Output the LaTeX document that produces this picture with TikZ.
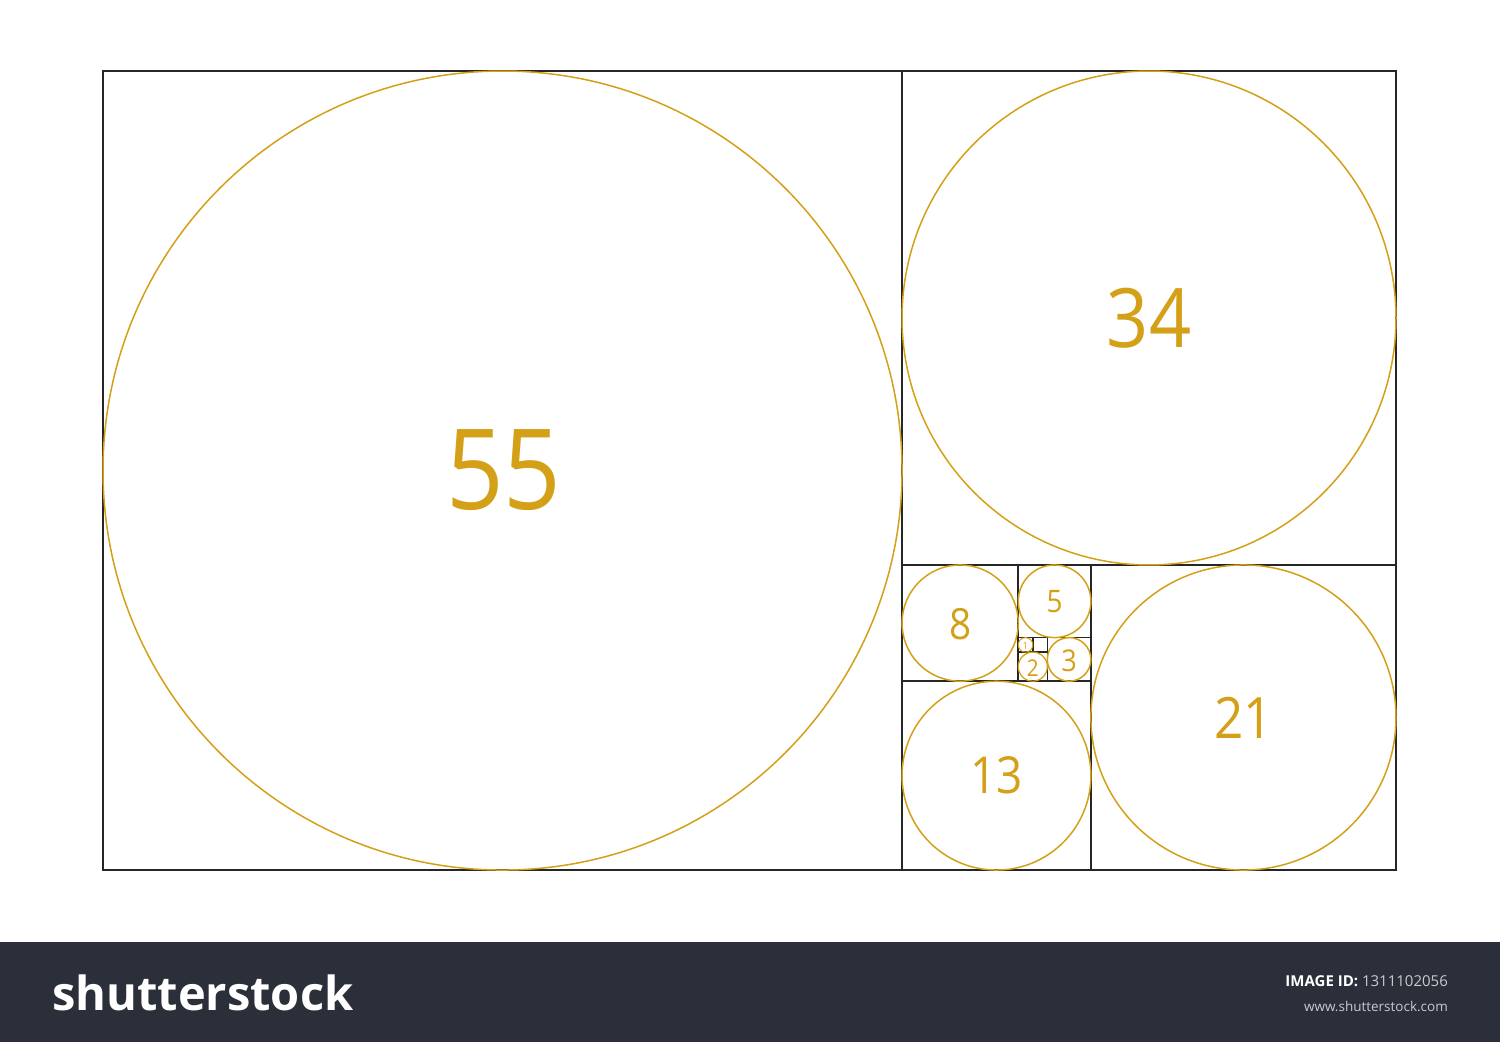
\documentclass[tikz,border=0pt]{standalone}
\usepackage{fontspec}
\setmainfont{Open Sans}
\definecolor{gold}{RGB}{212,160,23}
\definecolor{barbg}{RGB}{42,47,58}
\definecolor{idgrey}{RGB}{200,203,208}
\begin{document}
\begin{tikzpicture}[x=1pt,y=-1pt,
  sq/.style={draw=black!85,line width=1.6pt},
  circ/.style={draw=gold,line width=1.5pt},
  num/.style={text=gold,inner sep=0pt,anchor=center,xscale=0.9}]
\useasboundingbox (0,0) rectangle (1500,1042);
\fill[white] (0,0) rectangle (1500,1042);
\begin{scope}[shift={(103,71)},x=14.528pt,y=-14.528pt]
  % squares
  \draw[sq] (0,0) rectangle (89,55);
  \draw[sq] (55,0) -- (55,55);
  \draw[sq] (55,34) -- (89,34);
  \draw[sq] (68,34) -- (68,55);
  \draw[sq] (55,42) -- (68,42);
  \draw[sq] (63,34) -- (63,42);
  \draw[sq] (63,39) -- (68,39);
  \draw[sq] (65,39) -- (65,42);
  \draw[sq] (63,40) -- (65,40);
  \draw[sq] (64,39) -- (64,40);
  % circles
  \draw[circ] (27.5,27.5) circle[radius=27.5];
  \draw[circ] (72,17) circle[radius=17];
  \draw[circ] (78.5,44.5) circle[radius=10.5];
  \draw[circ] (61.5,48.5) circle[radius=6.5];
  \draw[circ] (59,38) circle[radius=4];
  \draw[circ] (65.5,36.5) circle[radius=2.5];
  \draw[circ] (66.5,40.5) circle[radius=1.5];
  \draw[circ,line width=1.2pt] (64,41) circle[radius=1];
  \draw[circ,line width=1pt] (63.5,39.5) circle[radius=0.5];
  % labels
  \node[num,font=\fontsize{112}{112}\selectfont] (n55) at (27.6,27.5) {55};
  \node[num,font=\fontsize{82}{82}\selectfont] (n34) at (72,17) {34};
  \node[num,font=\fontsize{57}{57}\selectfont] (n21) at (78.5,44.5) {21};
  \node[num,font=\fontsize{51}{51}\selectfont] (n13) at (61.5,48.5) {13};
  \node[num,font=\fontsize{43}{43}\selectfont] (n8) at (59,38.05) {8};
  \node[num,font=\fontsize{31}{31}\selectfont] (n5) at (65.5,36.5) {5};
  \node[num,font=\fontsize{30}{30}\selectfont] (n3) at (66.5,40.6) {3};
  \node[num,font=\fontsize{23}{23}\selectfont] (n2) at (64,41.1) {2};
  \node[num,font=\fontsize{10}{10}\selectfont] (n1) at (63.5,39.55) {1};
\end{scope}
% bottom bar
\fill[barbg] (0,942) rectangle (1500,1042);
\node[text=white,anchor=base west,inner sep=0pt,font=\fontsize{47}{47}\selectfont\bfseries] (logo) at (52,1010) {shutterstock};
\node[anchor=base east,inner sep=0pt,font=\fontsize{15}{15}\selectfont,text=idgrey] (imgid) at (1448,986) {\textcolor{white}{\bfseries IMAGE ID:} 1311102056};
\node[anchor=base east,inner sep=0pt,font=\fontsize{13.5}{13.5}\selectfont,text=idgrey] (url) at (1448,1011) {www.shutterstock.com};
\end{tikzpicture}
\end{document}
